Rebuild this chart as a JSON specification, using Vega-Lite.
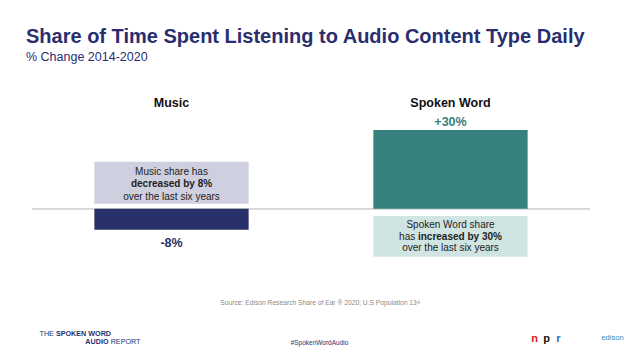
{
  "$schema": "https://vega.github.io/schema/vega-lite/v6.json",
  "width": 558,
  "height": 176,
  "autosize": {"type": "none"},
  "padding": {"left": 32, "top": 109, "right": 50, "bottom": 75},
  "background": "white",
  "config": {
    "view": {"stroke": null},
    "font": "Liberation Sans",
    "axis": {"domain": false, "ticks": false, "tickSize": 0, "grid": false, "labels": false, "titleFont": "Liberation Sans", "labelFont": "Liberation Sans"}
  },
  "title": {
    "text": "Share of Time Spent Listening to Audio Content Type Daily",
    "subtitle": "% Change 2014-2020",
    "anchor": "start",
    "frame": "group",
    "dx": -6,
    "offset": 33,
    "font": "Liberation Sans",
    "fontSize": 20,
    "fontWeight": "bold",
    "color": "#2a2e6e",
    "subtitleFont": "Liberation Sans",
    "subtitleFontSize": 12.5,
    "subtitleColor": "#2a2e6e",
    "subtitlePadding": 4
  },
  "data": {
    "values": [
      {"type": "Music", "change": -8, "label": "-8%", "line1": "Music share has", "line2a": "", "line2b": "decreased by 8%", "line3": "over the last six years"},
      {"type": "Spoken Word", "change": 30, "label": "+30%", "line1": "Spoken Word share", "line2a": "has", "line2b": "increased by 30%", "line3": "over the last six years"}
    ]
  },
  "resolve": {"axis": {"x": "independent", "y": "independent"}},
  "layer": [
    {
      "mark": {"type": "rule", "color": "#d4d4d4", "strokeWidth": 1.2},
      "encoding": {
        "y": {"datum": 0, "type": "quantitative", "axis": {"orient": "left", "title": "THE", "titleAngle": 0, "titleX": 7, "titleY": 224, "titleAlign": "left", "titleBaseline": "middle", "titleFontSize": 7.2, "titleFontWeight": "normal", "titleColor": "#2a3070"}}
      }
    },
    {
      "mark": {"type": "bar", "width": {"band": 0.553}},
      "encoding": {
        "x": {"field": "type", "type": "nominal", "scale": {"type": "band", "domain": ["Music", "Spoken Word"], "paddingInner": 0, "paddingOuter": 0},
          "axis": {"orient": "top", "title": null, "labels": true, "labelFontSize": 12.5, "labelFontWeight": "bold", "labelColor": "#111111", "labelPadding": 3, "labelAngle": 0, "labelBaseline": "alphabetic"}},
        "y": {"field": "change", "type": "quantitative", "scale": {"domain": [-29, 38], "nice": false, "zero": false}, "axis": null},
        "color": {"field": "type", "type": "nominal", "scale": {"domain": ["Music", "Spoken Word"], "range": ["#283069", "#36827f"]}, "legend": null}
      }
    },
    {
      "transform": [{"filter": "datum.change < 0"}],
      "mark": {"type": "text", "baseline": "middle", "dy": 13, "fontSize": 12.5, "fontWeight": "bold"},
      "encoding": {
        "x": {"field": "type", "type": "nominal", "scale": {"type": "band"}, "axis": null},
        "y": {"field": "change", "type": "quantitative", "axis": {"orient": "left", "title": "SPOKEN WORD", "titleAngle": 0, "titleX": 23.4, "titleY": 224, "titleAlign": "left", "titleBaseline": "middle", "titleFontSize": 7.2, "titleFontWeight": "bold", "titleColor": "#2a3070"}},
        "text": {"field": "label"},
        "color": {"field": "type", "type": "nominal", "legend": null}
      }
    },
    {
      "transform": [{"filter": "datum.change > 0"}],
      "mark": {"type": "text", "baseline": "middle", "dy": -8.5, "fontSize": 12.5, "fontWeight": "bold"},
      "encoding": {
        "x": {"field": "type", "type": "nominal", "scale": {"type": "band"}, "axis": null},
        "y": {"field": "change", "type": "quantitative", "axis": {"orient": "left", "title": "AUDIO", "titleAngle": 0, "titleX": 76, "titleY": 232, "titleAlign": "right", "titleBaseline": "middle", "titleFontSize": 7.2, "titleFontWeight": "bold", "titleColor": "#2a3070"}},
        "text": {"field": "label"},
        "color": {"field": "type", "type": "nominal", "legend": null}
      }
    },
    {
      "transform": [{"filter": "datum.type === 'Music'"}],
      "mark": {"type": "bar", "width": {"band": 0.553}, "color": "#cfd0df"},
      "encoding": {
        "x": {"field": "type", "type": "nominal", "scale": {"type": "band"},
          "axis": {"orient": "bottom", "title": "Source: Edison Research Share of Ear ® 2020; U.S Population 13+", "titleX": 288, "titleY": 17, "titleAlign": "center", "titleBaseline": "middle", "titleFontSize": 6.7, "titleFontWeight": "normal", "titleColor": "#8a8a8a"}},
        "y": {"datum": 1.94, "type": "quantitative", "axis": {"orient": "left", "title": "REPORT", "titleAngle": 0, "titleX": 108, "titleY": 232, "titleAlign": "right", "titleBaseline": "middle", "titleFontSize": 7.2, "titleFontWeight": "normal", "titleColor": "#2a3070"}},
        "y2": {"datum": 17.93}
      }
    },
    {
      "transform": [{"filter": "datum.type === 'Spoken Word'"}],
      "mark": {"type": "bar", "width": {"band": 0.553}, "color": "#d0e4e2"},
      "encoding": {
        "x": {"field": "type", "type": "nominal", "scale": {"type": "band"},
          "axis": {"orient": "bottom", "title": "#SpokenWordAudio", "titleX": 287, "titleY": 57, "titleAlign": "center", "titleBaseline": "middle", "titleFontSize": 6.5, "titleFontWeight": "normal", "titleColor": "#2b3370"}},
        "y": {"datum": -2.74, "type": "quantitative", "axis": {"orient": "right", "title": "n", "titleAngle": 0, "titleX": -56, "titleY": 229.5, "titleAlign": "center", "titleBaseline": "middle", "titleFontSize": 11, "titleFontWeight": "bold", "titleColor": "#d62021"}},
        "y2": {"datum": -18.23}
      }
    },
    {
      "transform": [{"filter": "datum.type === 'Music'"}],
      "mark": {"type": "text", "baseline": "middle", "fontSize": 10, "color": "#222222"},
      "encoding": {
        "x": {"field": "type", "type": "nominal", "scale": {"type": "band"}, "axis": null},
        "y": {"datum": 14.12, "type": "quantitative", "axis": {"orient": "right", "title": "p", "titleAngle": 0, "titleX": -44, "titleY": 229.5, "titleAlign": "center", "titleBaseline": "middle", "titleFontSize": 11, "titleFontWeight": "bold", "titleColor": "#111111"}},
        "text": {"field": "line1"}
      }
    },
    {
      "transform": [{"filter": "datum.type === 'Music'"}],
      "mark": {"type": "text", "baseline": "middle", "fontSize": 10, "fontWeight": "bold", "color": "#222222"},
      "encoding": {
        "x": {"field": "type", "type": "nominal", "scale": {"type": "band"}, "axis": null},
        "y": {"datum": 9.33, "type": "quantitative", "axis": {"orient": "right", "title": "r", "titleAngle": 0, "titleX": -32, "titleY": 229.5, "titleAlign": "center", "titleBaseline": "middle", "titleFontSize": 11, "titleFontWeight": "bold", "titleColor": "#2f6db5"}},
        "text": {"field": "line2b"}
      }
    },
    {
      "transform": [{"filter": "datum.type === 'Music'"}],
      "mark": {"type": "text", "baseline": "middle", "fontSize": 10, "color": "#222222"},
      "encoding": {
        "x": {"field": "type", "type": "nominal", "scale": {"type": "band"}, "axis": null},
        "y": {"datum": 4.61, "type": "quantitative", "axis": {"orient": "right", "title": "edison", "titleAngle": 0, "titleX": 22, "titleY": 228, "titleAlign": "center", "titleBaseline": "middle", "titleFontSize": 7.5, "titleFontWeight": "normal", "titleColor": "#2a8fbf"}},
        "text": {"field": "line3"}
      }
    },
    {
      "transform": [{"filter": "datum.type === 'Spoken Word'"}],
      "mark": {"type": "text", "baseline": "middle", "fontSize": 10, "color": "#222222"},
      "encoding": {
        "x": {"field": "type", "type": "nominal", "scale": {"type": "band"}, "axis": null},
        "y": {"datum": -6.17, "type": "quantitative", "axis": null},
        "text": {"field": "line1"}
      }
    },
    {
      "transform": [{"filter": "datum.type === 'Spoken Word'"}],
      "mark": {"type": "text", "baseline": "middle", "align": "left", "dx": -51.4, "fontSize": 10, "color": "#222222"},
      "encoding": {
        "x": {"field": "type", "type": "nominal", "scale": {"type": "band"}, "axis": null},
        "y": {"datum": -10.62, "type": "quantitative", "axis": null},
        "text": {"field": "line2a"}
      }
    },
    {
      "transform": [{"filter": "datum.type === 'Spoken Word'"}],
      "mark": {"type": "text", "baseline": "middle", "align": "right", "dx": 51.4, "fontSize": 10, "fontWeight": "bold", "color": "#222222"},
      "encoding": {
        "x": {"field": "type", "type": "nominal", "scale": {"type": "band"}, "axis": null},
        "y": {"datum": -10.62, "type": "quantitative", "axis": null},
        "text": {"field": "line2b"}
      }
    },
    {
      "transform": [{"filter": "datum.type === 'Spoken Word'"}],
      "mark": {"type": "text", "baseline": "middle", "fontSize": 10, "color": "#222222"},
      "encoding": {
        "x": {"field": "type", "type": "nominal", "scale": {"type": "band"}, "axis": null},
        "y": {"datum": -15.04, "type": "quantitative", "axis": null},
        "text": {"field": "line3"}
      }
    }
  ]
}
